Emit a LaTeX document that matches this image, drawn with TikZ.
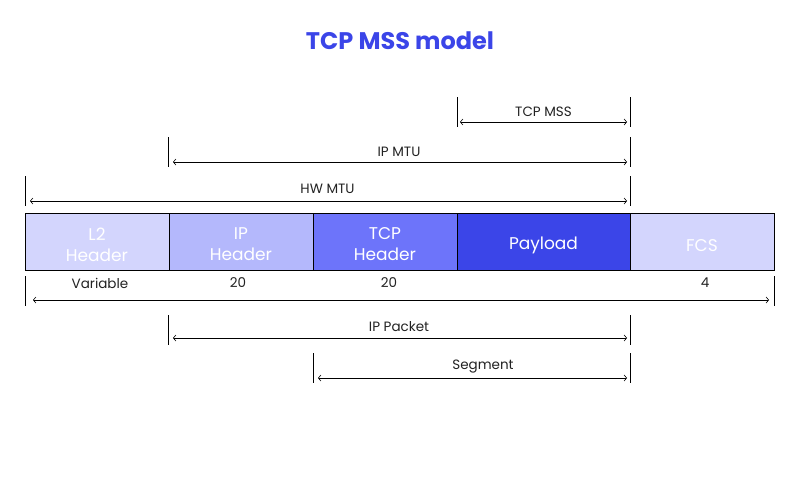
\documentclass[tikz,border=0pt]{standalone}
\usepackage{fontspec}
\setmainfont{Poppins}
\usepackage{xcolor}
\usetikzlibrary{arrows.meta}

\definecolor{titleblue}{HTML}{3B45E8}
\definecolor{lightcol}{HTML}{D3D5FD}
\definecolor{ipcol}{HTML}{B4B8FC}
\definecolor{tcpcol}{HTML}{6D74FA}
\definecolor{paycol}{HTML}{3B45E8}
\definecolor{textgrey}{HTML}{222222}

\tikzset{
    cell/.style={draw=black,line width=0.8pt,minimum height=57pt,inner sep=0pt},
    celltext/.style={text=white,align=center,inner sep=0pt,font=\fontsize{17}{21}\selectfont},
    span/.style={line width=0.6pt,{Straight Barb[length=2.5pt,width=6pt]}-{Straight Barb[length=2.5pt,width=6pt]}},
    tick/.style={line width=0.6pt},
    lbl/.style={text=textgrey,font=\fontsize{13.5}{16}\selectfont,inner sep=0pt}
}

\begin{document}
\begin{tikzpicture}[x=1pt,y=-1pt]
        \useasboundingbox (0,0) rectangle (800,480);

        \node[text=titleblue,font=\fontsize{24}{28}\selectfont\bfseries] (title) at (400,41) {TCP MSS model};

        % frame fields
        \node[cell,fill=lightcol,minimum width=144pt] (l2)  at (97,241.5)  {};
        \node[cell,fill=ipcol,minimum width=144pt]    (ip)  at (241,241.5) {};
        \node[cell,fill=tcpcol,minimum width=144pt]   (tcp) at (385,241.5) {};
        \node[cell,fill=paycol,minimum width=173pt]   (pay) at (543.5,241.5) {};
        \node[cell,fill=lightcol,minimum width=144pt] (fcs) at (702,241.5) {};
        \node[celltext] (l2t)  at ([yshift=-3pt]l2)  {L2\\Header};
        \node[celltext] (ipt)  at ([yshift=-3pt]ip)  {IP\\Header};
        \node[celltext] (tcpt) at ([yshift=-3pt]tcp) {TCP\\Header};
        \node[celltext] (payt) at ([yshift=-4pt]pay) {Payload};
        \node[celltext] (fcst) at ([yshift=-4pt]fcs) {FCS};

        % ticks
        \coordinate (a1) at (25,0);
        \coordinate (a2) at (168,0);
        \coordinate (a3) at (313,0);
        \coordinate (a4) at (457,0);
        \coordinate (a5) at (630,0);
        \coordinate (a6) at (774,0);

        % TCP MSS
        \draw[tick] (a4 |- 0,97) -- (a4 |- 0,127);
        \draw[tick] (a5 |- 0,97) -- (a5 |- 0,127);
        \draw[span] ([xshift=3pt]a4 |- 0,122) -- ([xshift=-3pt]a5 |- 0,122);
        \node[lbl] (mss) at (543.5,112) {TCP MSS};

        % IP MTU
        \draw[tick] (a2 |- 0,137) -- (a2 |- 0,167);
        \draw[tick] (a5 |- 0,137) -- (a5 |- 0,167);
        \draw[span] ([xshift=5pt]a2 |- 0,162) -- ([xshift=-3pt]a5 |- 0,162);
        \node[lbl] (ipmtu) at (399,152) {IP MTU};

        % HW MTU
        \draw[tick] (a1 |- 0,176) -- (a1 |- 0,206);
        \draw[tick] (a5 |- 0,176) -- (a5 |- 0,206);
        \draw[span] ([xshift=5pt]a1 |- 0,201) -- ([xshift=-3pt]a5 |- 0,201);
        \node[lbl] (hwmtu) at (327.5,189) {HW MTU};

        % whole frame
        \draw[tick] (a1 |- 0,276) -- (a1 |- 0,306);
        \draw[tick] (a6 |- 0,276) -- (a6 |- 0,306);
        \draw[span] ([xshift=8pt]a1 |- 0,300) -- ([xshift=-5pt]a6 |- 0,300);
        \node[lbl] (sz1) at (100,283) {Variable};
        \node[lbl] (sz2) at (238,283) {20};
        \node[lbl] (sz3) at (389,283) {20};
        \node[lbl] (sz4) at (705,283) {4};

        % IP Packet
        \draw[tick] (a2 |- 0,315) -- (a2 |- 0,345);
        \draw[tick] (a5 |- 0,315) -- (a5 |- 0,345);
        \draw[span] ([xshift=5pt]a2 |- 0,338) -- ([xshift=-3pt]a5 |- 0,338);
        \node[lbl] (ippkt) at (399,327) {IP Packet};

        % Segment
        \draw[tick] (a3 |- 0,353) -- (a3 |- 0,383);
        \draw[tick] (a5 |- 0,353) -- (a5 |- 0,383);
        \draw[span] ([xshift=5pt]a3 |- 0,378) -- ([xshift=-3pt]a5 |- 0,378);
        \node[lbl] (seg) at (483,367) {Segment};
    \end{tikzpicture}
\end{document}
